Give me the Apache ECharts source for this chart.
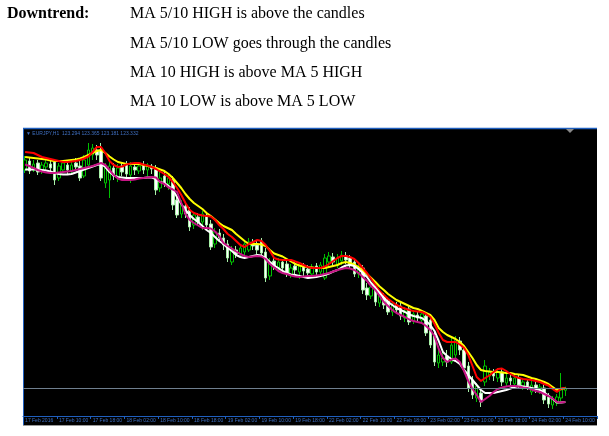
<!DOCTYPE html>
<html><head><meta charset="utf-8">
<script src="https://cdn.jsdelivr.net/npm/echarts/dist/echarts.min.js"></script>
<style>html,body{margin:0;padding:0;background:#fff}#c{width:609px;height:436px}</style>
</head><body><div id="c"></div>
<script>
const tickLabels = ['17 Feb 2016','17 Feb 10:00','17 Feb 18:00','18 Feb 02:00','18 Feb 10:00','18 Feb 18:00','19 Feb 02:00','19 Feb 10:00','19 Feb 18:00','22 Feb 02:00','22 Feb 10:00','22 Feb 18:00','23 Feb 02:00','23 Feb 10:00','23 Feb 18:00','24 Feb 02:00','24 Feb 10:00'];

const opens = [127.70,127.88,127.70,127.84,127.68,127.76,127.82,127.86,127.54,127.70,
127.80,127.68,127.84,127.78,127.58,127.80,128.00,128.10,128.10,127.44,
127.50,127.74,127.54,127.78,127.82,127.60,127.76,127.68,127.80,127.70,
127.78,127.74,127.34,127.58,127.42,127.50,127.10,126.82,126.98,126.90,
126.60,126.76,126.66,126.78,126.62,126.22,126.44,126.34,126.22,125.86,
126.10,126.02,126.06,126.10,126.24,126.20,126.28,126.06,125.58,125.88,
125.74,125.86,125.82,125.60,125.78,125.66,125.78,125.72,125.62,125.78,
125.66,125.54,125.86,125.96,125.80,125.88,125.98,125.94,125.86,125.62,
125.74,125.34,125.18,125.34,125.04,125.16,125.08,124.86,125.00,124.98,
124.74,124.92,124.68,124.80,124.70,124.78,124.70,124.38,123.84,123.86,
123.98,123.86,124.00,124.28,124.10,123.78,123.50,123.14,123.24,123.46,
123.58,123.66,123.54,123.66,123.44,123.54,123.42,123.54,123.38,123.46,
123.26,123.40,123.30,123.34,123.16,123.00,123.04,123.14,123.294];
const closes = [127.90,127.68,127.82,127.66,127.80,127.84,127.74,127.50,127.78,127.84,
127.70,127.80,127.76,127.54,127.90,128.10,128.14,128.00,127.54,127.74,
127.78,127.58,127.74,127.66,127.62,127.78,127.70,127.78,127.70,127.80,
127.72,127.30,127.54,127.44,127.54,127.00,126.80,127.00,126.82,126.56,
126.80,126.66,126.82,126.60,126.16,126.46,126.34,126.20,125.94,126.10,
126.02,126.14,126.22,126.26,126.18,126.10,126.04,125.54,125.86,125.78,
125.86,125.74,125.62,125.74,125.70,125.78,125.68,125.64,125.76,125.66,
125.80,125.94,125.98,125.86,125.94,126.00,125.90,125.80,125.62,125.74,
125.30,125.20,125.36,125.06,125.18,125.00,124.86,125.00,124.90,124.78,
124.88,124.66,124.82,124.74,124.82,124.44,124.20,123.86,124.00,123.94,
123.86,124.20,124.30,124.10,123.74,123.34,123.20,123.38,123.06,123.78,
123.66,123.58,123.66,123.46,123.54,123.48,123.54,123.40,123.46,123.38,
123.40,123.32,123.36,123.10,123.02,123.12,123.16,123.30,123.332];
const highs = [127.98,127.94,127.90,127.90,127.86,127.92,127.88,127.90,127.84,127.90,
127.88,127.90,127.94,127.90,128.00,128.24,128.22,128.20,128.24,127.84,
127.86,127.84,127.82,127.84,127.88,127.86,127.84,127.86,127.88,127.84,
127.82,127.80,127.66,127.68,127.60,127.58,127.20,127.10,127.06,126.96,
126.86,126.84,126.88,126.86,126.70,126.54,126.52,126.42,126.30,126.18,
126.18,126.22,126.30,126.34,126.32,126.30,126.34,126.14,125.94,125.96,
125.94,125.92,125.90,125.82,125.86,125.84,125.84,125.80,125.82,125.84,
125.86,126.02,126.06,126.04,126.02,126.08,126.06,126.00,125.92,125.82,
125.80,125.44,125.44,125.40,125.26,125.24,125.14,125.08,125.06,125.04,
124.96,124.98,124.90,124.88,124.90,124.86,124.78,124.46,124.10,124.06,
124.10,124.34,124.38,124.36,124.18,123.86,123.58,123.44,123.32,123.90,
123.74,123.72,123.74,123.72,123.62,123.60,123.60,123.60,123.54,123.52,
123.48,123.46,123.42,123.40,123.24,123.18,123.22,123.64,123.365];
const lows = [127.64,127.62,127.66,127.60,127.62,127.70,127.68,127.40,127.48,127.64,
127.62,127.62,127.70,127.48,127.54,127.74,127.90,127.90,127.48,127.34,
127.14,127.50,127.46,127.58,127.54,127.44,127.60,127.62,127.62,127.58,
127.62,127.20,127.26,127.36,127.30,126.90,126.74,126.74,126.74,126.48,
126.52,126.58,126.50,126.54,126.10,126.14,126.28,126.10,125.86,125.80,
125.94,125.94,126.00,126.06,126.10,126.02,125.98,125.46,125.50,125.70,
125.66,125.68,125.56,125.54,125.58,125.52,125.58,125.56,125.54,125.60,
125.58,125.50,125.78,125.78,125.74,125.80,125.82,125.74,125.56,125.54,
125.22,125.10,125.12,124.98,124.96,124.92,124.80,124.78,124.82,124.70,
124.66,124.60,124.62,124.64,124.62,124.38,124.14,123.78,123.74,123.78,
123.76,123.82,123.94,124.00,123.68,123.26,123.12,123.06,122.96,123.38,
123.50,123.48,123.46,123.38,123.36,123.40,123.34,123.34,123.30,123.30,
123.20,123.24,123.22,123.02,122.94,122.92,122.98,123.08,123.181];

const ma5High = [128.06,128.05,128.04,128.00,127.96,127.94,127.92,127.90,127.88,127.86,
127.86,127.87,127.88,127.90,127.93,127.97,128.06,128.16,128.16,128.04,
127.88,127.80,127.76,127.77,127.81,127.83,127.84,127.84,127.81,127.79,
127.76,127.72,127.67,127.62,127.56,127.46,127.34,127.20,127.04,126.90,
126.84,126.81,126.79,126.78,126.77,126.70,126.60,126.52,126.42,126.36,
126.28,126.20,126.16,126.22,126.26,126.30,126.28,126.20,126.08,125.94,
125.91,125.90,125.90,125.90,125.87,125.84,125.80,125.76,125.74,125.74,
125.74,125.77,125.82,125.88,125.94,125.98,125.98,125.96,125.92,125.84,
125.74,125.64,125.52,125.40,125.28,125.20,125.12,125.06,125.00,124.96,
124.93,124.90,124.88,124.87,124.86,124.82,124.76,124.62,124.44,124.30,
124.26,124.26,124.26,124.21,124.14,124.00,123.78,123.56,123.48,123.54,
123.59,123.66,123.72,123.73,123.68,123.62,123.57,123.54,123.52,123.51,
123.50,123.48,123.46,123.42,123.39,123.32,123.26,123.33,123.34];
const ma10High = [127.96,127.95,127.94,127.93,127.92,127.91,127.89,127.88,127.88,127.88,
127.89,127.90,127.91,127.93,127.96,128.00,128.04,128.08,128.10,128.04,
127.97,127.91,127.86,127.84,127.82,127.82,127.82,127.82,127.80,127.78,
127.76,127.74,127.71,127.68,127.62,127.54,127.44,127.34,127.22,127.12,
127.04,126.98,126.92,126.84,126.78,126.71,126.64,126.58,126.54,126.50,
126.42,126.35,126.28,126.22,126.22,126.22,126.21,126.18,126.10,126.03,
126.00,125.97,125.92,125.87,125.82,125.79,125.77,125.76,125.75,125.74,
125.74,125.74,125.76,125.78,125.80,125.84,125.86,125.84,125.81,125.76,
125.69,125.62,125.54,125.46,125.37,125.30,125.22,125.16,125.10,125.06,
125.02,124.98,124.94,124.92,124.88,124.84,124.80,124.70,124.54,124.46,
124.40,124.36,124.32,124.26,124.18,124.06,123.94,123.80,123.70,123.68,
123.67,123.66,123.66,123.65,123.64,123.64,123.62,123.61,123.60,123.57,
123.54,123.52,123.49,123.46,123.42,123.36,123.30,123.32,123.34];
const ma5Low = [127.81,127.78,127.74,127.70,127.67,127.65,127.64,127.64,127.65,127.66,
127.67,127.68,127.70,127.72,127.74,127.76,127.78,127.81,127.84,127.80,
127.70,127.60,127.53,127.50,127.50,127.50,127.51,127.53,127.54,127.55,
127.56,127.55,127.46,127.42,127.35,127.31,127.26,127.04,126.82,126.70,
126.64,126.59,126.54,126.54,126.53,126.47,126.38,126.24,126.18,126.13,
126.07,126.02,125.98,125.96,125.97,125.98,125.97,125.92,125.82,125.75,
125.68,125.64,125.62,125.59,125.57,125.56,125.57,125.58,125.58,125.59,
125.60,125.62,125.64,125.67,125.70,125.72,125.74,125.73,125.70,125.64,
125.56,125.48,125.38,125.30,125.18,125.06,124.98,124.90,124.84,124.80,
124.76,124.71,124.68,124.66,124.64,124.58,124.50,124.38,124.12,123.94,
123.86,123.91,123.93,123.86,123.68,123.48,123.32,123.20,123.06,123.12,
123.18,123.26,123.32,123.35,123.37,123.38,123.38,123.37,123.35,123.34,
123.31,123.28,123.26,123.22,123.18,123.13,123.06,123.05,123.06];
const ma10Low = [127.71,127.71,127.71,127.71,127.70,127.69,127.67,127.64,127.62,127.61,
127.61,127.62,127.65,127.68,127.71,127.74,127.77,127.80,127.82,127.76,
127.66,127.59,127.56,127.55,127.54,127.54,127.54,127.54,127.54,127.55,
127.55,127.52,127.46,127.44,127.38,127.30,127.16,127.02,126.90,126.80,
126.72,126.66,126.58,126.50,126.44,126.36,126.28,126.22,126.14,126.08,
126.00,125.96,125.94,125.96,125.98,126.00,125.99,125.94,125.86,125.79,
125.74,125.68,125.64,125.61,125.60,125.58,125.56,125.54,125.55,125.56,
125.58,125.60,125.63,125.67,125.70,125.75,125.79,125.80,125.78,125.72,
125.64,125.56,125.44,125.34,125.24,125.14,125.06,125.00,124.94,124.90,
124.86,124.81,124.78,124.76,124.74,124.68,124.60,124.48,124.28,124.06,
123.98,123.92,123.88,123.82,123.70,123.60,123.50,123.40,123.30,123.24,
123.24,123.24,123.26,123.28,123.30,123.33,123.36,123.38,123.37,123.36,
123.34,123.32,123.30,123.25,123.19,123.12,123.05,123.05,123.06];

const bidPrice = 123.332;
const headerText = '\u25BC EURJPY,H1  123.294 123.365 123.181 123.332';

const N = 136;
const days = ['17 Feb','18 Feb','19 Feb','22 Feb','23 Feb','24 Feb'];
const categories = [];
for (let k = 0; k < N; k++) { const t = 2 + k; categories.push(days[Math.floor(t/24)] + ' ' + String(t%24).padStart(2,'0') + ':00'); }
const candles = opens.map((o,i)=>[o, closes[i], lows[i], highs[i]]);

const blue = '#3f6fc0';
const axisBlue = '#1f5fbf';
const chart = echarts.init(document.getElementById('c'), null, {renderer:'canvas'});
const serif = '"Liberation Serif","Times New Roman",serif';
const small = '"Liberation Sans",Arial,sans-serif';
const lineS = (name, data, color) => ({type:'line', name, data, showSymbol:false, symbol:'none', z:3,
  lineStyle:{color, width:2}, itemStyle:{color}, animation:false, silent:true});
chart.setOption({
  backgroundColor:'#ffffff',
  animation:false,
  grid:{left:23, right:12, top:129, bottom:20, outerBoundsMode:'none', containLabel:false, show:false},
  graphic:[
    {type:'rect', z:-10, shape:{x:23, y:128, width:574, height:297}, style:{fill:'#000'}},
    {type:'line', z:-9, shape:{x1:23, y1:425.5, x2:597, y2:425.5}, style:{stroke:'#9a9a9a', lineWidth:1}},
    {type:'line', z:-9, shape:{x1:23, y1:128.5, x2:597, y2:128.5}, style:{stroke:axisBlue, lineWidth:1.5}},
    {type:'line', z:-9, shape:{x1:23.5, y1:128, x2:23.5, y2:425}, style:{stroke:axisBlue, lineWidth:1}},
    {type:'polygon', z:5, shape:{points:[[566,129],[574,129],[570,133]]}, style:{fill:'#8a8a8a'}},
    {type:'text', z:5, x:26, y:134, style:{text:headerText, fill:blue, font:'5px '+small, verticalAlign:'middle'}},
    {type:'text', x:7, y:13.7, style:{text:'Downtrend:', fill:'#000', font:'bold 16px '+serif, verticalAlign:'middle'}},
    {type:'text', x:130, y:13.7, style:{text:'MA 5/10 HIGH is above the candles', fill:'#000', font:'16px '+serif, verticalAlign:'middle'}},
    {type:'text', x:130, y:43.6, style:{text:'MA 5/10 LOW goes through the candles', fill:'#000', font:'16px '+serif, verticalAlign:'middle'}},
    {type:'text', x:130, y:72.6, style:{text:'MA 10 HIGH is above MA 5 HIGH', fill:'#000', font:'16px '+serif, verticalAlign:'middle'}},
    {type:'text', x:130, y:101.3, style:{text:'MA 10 LOW is above MA 5 LOW', fill:'#000', font:'16px '+serif, verticalAlign:'middle'}}
  ],
  xAxis:{type:'category', data:categories, boundaryGap:true,
    axisLine:{show:true, lineStyle:{color:axisBlue, width:1}},
    axisTick:{show:true, interval:7, length:3, lineStyle:{color:axisBlue}},
    axisLabel:{show:true, interval:7, align:'left', margin:2, color:blue,
      fontFamily:small, fontSize:5,
      formatter:(v,i)=> (i%8===0 && tickLabels[i/8]) ? tickLabels[i/8] : ''},
    splitLine:{show:false}},
  yAxis:{type:'value', min:122.78, max:128.52, show:false, splitLine:{show:false}, scale:true},
  series:[
    {type:'candlestick', name:'EURJPY', data:candles, barWidth:3, z:2, silent:true,
      itemStyle:{color:'#000000', color0:'#ffffff', borderColor:'#00c000', borderColor0:'#a8f0a8', borderWidth:1},
      markLine:{silent:true, symbol:['none','none'], label:{show:false},
        lineStyle:{color:'#6f7f8f', type:'solid', width:1}, data:[{yAxis:bidPrice}]}},
    lineS('MA 10 HIGH', ma10High, '#ffff00'),
    lineS('MA 5 HIGH', ma5High, '#ff0000'),
    lineS('MA 10 LOW', ma10Low, '#ffffff'),
    lineS('MA 5 LOW', ma5Low, '#c71585')
  ]
});
</script></body></html>
